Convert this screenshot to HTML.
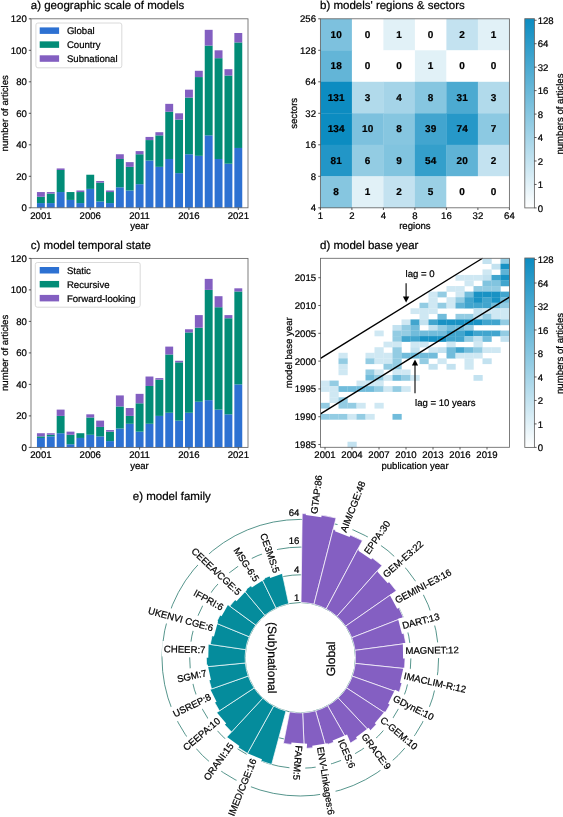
<!DOCTYPE html><html><head><meta charset="utf-8"><style>html,body{margin:0;padding:0;background:#fff;}svg{display:block;will-change:transform;} text{stroke:#000;stroke-width:0.22px;text-rendering:geometricPrecision;}</style></head><body><svg width="563" height="817" viewBox="0 0 563 817" font-family='"Liberation Sans", sans-serif'>
<rect width="563" height="817" fill="#fff"/>
<rect x="36.95" y="203.08" width="7.90" height="4.72" fill="#2d71d2"/>
<rect x="36.95" y="196.78" width="7.90" height="6.30" fill="#028c77"/>
<rect x="36.95" y="192.05" width="7.90" height="4.72" fill="#835fc1"/>
<rect x="46.82" y="203.08" width="7.90" height="4.72" fill="#2d71d2"/>
<rect x="46.82" y="193.62" width="7.90" height="9.45" fill="#028c77"/>
<rect x="46.82" y="192.05" width="7.90" height="1.57" fill="#835fc1"/>
<rect x="56.69" y="192.05" width="7.90" height="15.75" fill="#2d71d2"/>
<rect x="56.69" y="170.00" width="7.90" height="22.05" fill="#028c77"/>
<rect x="56.69" y="168.43" width="7.90" height="1.57" fill="#835fc1"/>
<rect x="66.56" y="199.93" width="7.90" height="7.88" fill="#2d71d2"/>
<rect x="66.56" y="192.05" width="7.90" height="7.88" fill="#028c77"/>
<rect x="76.43" y="203.08" width="7.90" height="4.72" fill="#2d71d2"/>
<rect x="76.43" y="192.05" width="7.90" height="11.03" fill="#028c77"/>
<rect x="76.43" y="190.48" width="7.90" height="1.57" fill="#835fc1"/>
<rect x="86.30" y="188.90" width="7.90" height="18.90" fill="#2d71d2"/>
<rect x="86.30" y="174.73" width="7.90" height="14.17" fill="#028c77"/>
<rect x="96.17" y="201.50" width="7.90" height="6.30" fill="#2d71d2"/>
<rect x="96.17" y="182.60" width="7.90" height="18.90" fill="#028c77"/>
<rect x="96.17" y="181.03" width="7.90" height="1.58" fill="#835fc1"/>
<rect x="106.04" y="203.08" width="7.90" height="4.72" fill="#2d71d2"/>
<rect x="106.04" y="192.05" width="7.90" height="11.03" fill="#028c77"/>
<rect x="106.04" y="190.48" width="7.90" height="1.57" fill="#835fc1"/>
<rect x="115.91" y="187.33" width="7.90" height="20.47" fill="#2d71d2"/>
<rect x="115.91" y="158.98" width="7.90" height="28.35" fill="#028c77"/>
<rect x="115.91" y="154.25" width="7.90" height="4.73" fill="#835fc1"/>
<rect x="125.78" y="190.48" width="7.90" height="17.32" fill="#2d71d2"/>
<rect x="125.78" y="166.85" width="7.90" height="23.62" fill="#028c77"/>
<rect x="125.78" y="162.12" width="7.90" height="4.73" fill="#835fc1"/>
<rect x="135.65" y="184.18" width="7.90" height="23.62" fill="#2d71d2"/>
<rect x="135.65" y="154.25" width="7.90" height="29.93" fill="#028c77"/>
<rect x="135.65" y="151.10" width="7.90" height="3.15" fill="#835fc1"/>
<rect x="145.52" y="160.55" width="7.90" height="47.25" fill="#2d71d2"/>
<rect x="145.52" y="140.08" width="7.90" height="20.47" fill="#028c77"/>
<rect x="145.52" y="136.93" width="7.90" height="3.15" fill="#835fc1"/>
<rect x="155.39" y="166.85" width="7.90" height="40.95" fill="#2d71d2"/>
<rect x="155.39" y="135.35" width="7.90" height="31.50" fill="#028c77"/>
<rect x="155.39" y="132.20" width="7.90" height="3.15" fill="#835fc1"/>
<rect x="165.26" y="158.98" width="7.90" height="48.82" fill="#2d71d2"/>
<rect x="165.26" y="111.73" width="7.90" height="47.25" fill="#028c77"/>
<rect x="165.26" y="103.85" width="7.90" height="7.88" fill="#835fc1"/>
<rect x="175.13" y="173.15" width="7.90" height="34.65" fill="#2d71d2"/>
<rect x="175.13" y="119.60" width="7.90" height="53.55" fill="#028c77"/>
<rect x="175.13" y="113.30" width="7.90" height="6.30" fill="#835fc1"/>
<rect x="185.00" y="154.25" width="7.90" height="53.55" fill="#2d71d2"/>
<rect x="185.00" y="97.55" width="7.90" height="56.70" fill="#028c77"/>
<rect x="185.00" y="89.68" width="7.90" height="7.88" fill="#835fc1"/>
<rect x="194.87" y="155.83" width="7.90" height="51.97" fill="#2d71d2"/>
<rect x="194.87" y="77.08" width="7.90" height="78.75" fill="#028c77"/>
<rect x="194.87" y="70.78" width="7.90" height="6.30" fill="#835fc1"/>
<rect x="204.74" y="135.35" width="7.90" height="72.45" fill="#2d71d2"/>
<rect x="204.74" y="45.58" width="7.90" height="89.78" fill="#028c77"/>
<rect x="204.74" y="29.83" width="7.90" height="15.75" fill="#835fc1"/>
<rect x="214.61" y="158.98" width="7.90" height="48.82" fill="#2d71d2"/>
<rect x="214.61" y="58.18" width="7.90" height="100.80" fill="#028c77"/>
<rect x="214.61" y="50.30" width="7.90" height="7.88" fill="#835fc1"/>
<rect x="224.48" y="163.70" width="7.90" height="44.10" fill="#2d71d2"/>
<rect x="224.48" y="75.50" width="7.90" height="88.20" fill="#028c77"/>
<rect x="224.48" y="69.20" width="7.90" height="6.30" fill="#835fc1"/>
<rect x="234.35" y="147.95" width="7.90" height="59.85" fill="#2d71d2"/>
<rect x="234.35" y="42.43" width="7.90" height="105.53" fill="#028c77"/>
<rect x="234.35" y="32.98" width="7.90" height="9.45" fill="#835fc1"/>
<rect x="31.0" y="18.8" width="217.0" height="189.0" fill="none" stroke="#666" stroke-width="0.85"/>
<line x1="28.8" y1="207.80" x2="31.0" y2="207.80" stroke="#333" stroke-width="0.8"/>
<text x="26.80" y="211.20" font-size="9.6" text-anchor="end" >0</text>
<line x1="28.8" y1="176.30" x2="31.0" y2="176.30" stroke="#333" stroke-width="0.8"/>
<text x="26.80" y="179.70" font-size="9.6" text-anchor="end" >20</text>
<line x1="28.8" y1="144.80" x2="31.0" y2="144.80" stroke="#333" stroke-width="0.8"/>
<text x="26.80" y="148.20" font-size="9.6" text-anchor="end" >40</text>
<line x1="28.8" y1="113.30" x2="31.0" y2="113.30" stroke="#333" stroke-width="0.8"/>
<text x="26.80" y="116.70" font-size="9.6" text-anchor="end" >60</text>
<line x1="28.8" y1="81.80" x2="31.0" y2="81.80" stroke="#333" stroke-width="0.8"/>
<text x="26.80" y="85.20" font-size="9.6" text-anchor="end" >80</text>
<line x1="28.8" y1="50.30" x2="31.0" y2="50.30" stroke="#333" stroke-width="0.8"/>
<text x="26.80" y="53.70" font-size="9.6" text-anchor="end" >100</text>
<line x1="28.8" y1="18.80" x2="31.0" y2="18.80" stroke="#333" stroke-width="0.8"/>
<text x="26.80" y="22.20" font-size="9.6" text-anchor="end" >120</text>
<line x1="40.90" y1="207.8" x2="40.90" y2="210.0" stroke="#333" stroke-width="0.8"/>
<text x="40.90" y="218.80" font-size="9.6" text-anchor="middle" >2001</text>
<line x1="90.25" y1="207.8" x2="90.25" y2="210.0" stroke="#333" stroke-width="0.8"/>
<text x="90.25" y="218.80" font-size="9.6" text-anchor="middle" >2006</text>
<line x1="139.60" y1="207.8" x2="139.60" y2="210.0" stroke="#333" stroke-width="0.8"/>
<text x="139.60" y="218.80" font-size="9.6" text-anchor="middle" >2011</text>
<line x1="188.95" y1="207.8" x2="188.95" y2="210.0" stroke="#333" stroke-width="0.8"/>
<text x="188.95" y="218.80" font-size="9.6" text-anchor="middle" >2016</text>
<line x1="238.30" y1="207.8" x2="238.30" y2="210.0" stroke="#333" stroke-width="0.8"/>
<text x="238.30" y="218.80" font-size="9.6" text-anchor="middle" >2021</text>
<text x="139.50" y="229.10" font-size="9.6" text-anchor="middle" >year</text>
<text x="0" y="0" font-size="9.6" text-anchor="middle" transform="translate(8.2,113.30) rotate(-90)">number of articles</text>
<text x="30.80" y="9.00" font-size="11.5" text-anchor="start" >a) geographic scale of models</text>
<rect x="35.9" y="23.0" width="85.9" height="44.8" rx="2" fill="#fff" fill-opacity="0.8" stroke="#d0d0d0" stroke-width="0.8"/>
<rect x="39.7" y="27.40" width="19.4" height="6.5" fill="#2d71d2"/>
<text x="66.90" y="34.30" font-size="9.6" text-anchor="start" >Global</text>
<rect x="39.7" y="41.35" width="19.4" height="6.5" fill="#028c77"/>
<text x="66.90" y="48.25" font-size="9.6" text-anchor="start" >Country</text>
<rect x="39.7" y="55.30" width="19.4" height="6.5" fill="#835fc1"/>
<text x="66.90" y="62.20" font-size="9.6" text-anchor="start" >Subnational</text>
<rect x="36.95" y="437.95" width="7.90" height="9.45" fill="#2d71d2"/>
<rect x="36.95" y="436.38" width="7.90" height="1.57" fill="#028c77"/>
<rect x="36.95" y="433.22" width="7.90" height="3.15" fill="#835fc1"/>
<rect x="46.82" y="436.38" width="7.90" height="11.02" fill="#2d71d2"/>
<rect x="46.82" y="434.80" width="7.90" height="1.58" fill="#028c77"/>
<rect x="46.82" y="433.22" width="7.90" height="1.57" fill="#835fc1"/>
<rect x="56.69" y="433.22" width="7.90" height="14.18" fill="#2d71d2"/>
<rect x="56.69" y="415.90" width="7.90" height="17.32" fill="#028c77"/>
<rect x="56.69" y="409.60" width="7.90" height="6.30" fill="#835fc1"/>
<rect x="66.56" y="444.25" width="7.90" height="3.15" fill="#2d71d2"/>
<rect x="66.56" y="434.80" width="7.90" height="9.45" fill="#028c77"/>
<rect x="66.56" y="431.65" width="7.90" height="3.15" fill="#835fc1"/>
<rect x="76.43" y="437.95" width="7.90" height="9.45" fill="#2d71d2"/>
<rect x="76.43" y="433.22" width="7.90" height="4.73" fill="#028c77"/>
<rect x="86.30" y="434.80" width="7.90" height="12.60" fill="#2d71d2"/>
<rect x="86.30" y="417.47" width="7.90" height="17.32" fill="#028c77"/>
<rect x="86.30" y="414.32" width="7.90" height="3.15" fill="#835fc1"/>
<rect x="96.17" y="436.38" width="7.90" height="11.02" fill="#2d71d2"/>
<rect x="96.17" y="426.92" width="7.90" height="9.45" fill="#028c77"/>
<rect x="96.17" y="420.62" width="7.90" height="6.30" fill="#835fc1"/>
<rect x="106.04" y="441.10" width="7.90" height="6.30" fill="#2d71d2"/>
<rect x="106.04" y="431.65" width="7.90" height="9.45" fill="#028c77"/>
<rect x="106.04" y="430.07" width="7.90" height="1.57" fill="#835fc1"/>
<rect x="115.91" y="428.50" width="7.90" height="18.90" fill="#2d71d2"/>
<rect x="115.91" y="406.45" width="7.90" height="22.05" fill="#028c77"/>
<rect x="115.91" y="395.42" width="7.90" height="11.03" fill="#835fc1"/>
<rect x="125.78" y="423.77" width="7.90" height="23.62" fill="#2d71d2"/>
<rect x="125.78" y="415.90" width="7.90" height="7.88" fill="#028c77"/>
<rect x="125.78" y="408.02" width="7.90" height="7.88" fill="#835fc1"/>
<rect x="135.65" y="431.65" width="7.90" height="15.75" fill="#2d71d2"/>
<rect x="135.65" y="403.30" width="7.90" height="28.35" fill="#028c77"/>
<rect x="135.65" y="393.85" width="7.90" height="9.45" fill="#835fc1"/>
<rect x="145.52" y="423.77" width="7.90" height="23.62" fill="#2d71d2"/>
<rect x="145.52" y="385.97" width="7.90" height="37.80" fill="#028c77"/>
<rect x="145.52" y="376.52" width="7.90" height="9.45" fill="#835fc1"/>
<rect x="155.39" y="415.90" width="7.90" height="31.50" fill="#2d71d2"/>
<rect x="155.39" y="379.67" width="7.90" height="36.23" fill="#028c77"/>
<rect x="155.39" y="378.10" width="7.90" height="1.57" fill="#835fc1"/>
<rect x="165.26" y="412.75" width="7.90" height="34.65" fill="#2d71d2"/>
<rect x="165.26" y="354.47" width="7.90" height="58.28" fill="#028c77"/>
<rect x="165.26" y="346.60" width="7.90" height="7.88" fill="#835fc1"/>
<rect x="175.13" y="420.62" width="7.90" height="26.77" fill="#2d71d2"/>
<rect x="175.13" y="362.35" width="7.90" height="58.28" fill="#028c77"/>
<rect x="175.13" y="360.77" width="7.90" height="1.57" fill="#835fc1"/>
<rect x="185.00" y="412.75" width="7.90" height="34.65" fill="#2d71d2"/>
<rect x="185.00" y="332.42" width="7.90" height="80.33" fill="#028c77"/>
<rect x="185.00" y="329.27" width="7.90" height="3.15" fill="#835fc1"/>
<rect x="194.87" y="401.72" width="7.90" height="45.68" fill="#2d71d2"/>
<rect x="194.87" y="327.70" width="7.90" height="74.02" fill="#028c77"/>
<rect x="194.87" y="315.10" width="7.90" height="12.60" fill="#835fc1"/>
<rect x="204.74" y="400.15" width="7.90" height="47.25" fill="#2d71d2"/>
<rect x="204.74" y="289.90" width="7.90" height="110.25" fill="#028c77"/>
<rect x="204.74" y="278.88" width="7.90" height="11.02" fill="#835fc1"/>
<rect x="214.61" y="409.60" width="7.90" height="37.80" fill="#2d71d2"/>
<rect x="214.61" y="307.23" width="7.90" height="102.37" fill="#028c77"/>
<rect x="214.61" y="296.20" width="7.90" height="11.03" fill="#835fc1"/>
<rect x="224.48" y="414.32" width="7.90" height="33.07" fill="#2d71d2"/>
<rect x="224.48" y="318.25" width="7.90" height="96.07" fill="#028c77"/>
<rect x="224.48" y="315.10" width="7.90" height="3.15" fill="#835fc1"/>
<rect x="234.35" y="384.40" width="7.90" height="63.00" fill="#2d71d2"/>
<rect x="234.35" y="291.48" width="7.90" height="92.92" fill="#028c77"/>
<rect x="234.35" y="288.32" width="7.90" height="3.15" fill="#835fc1"/>
<rect x="31.0" y="258.4" width="217.0" height="189.0" fill="none" stroke="#666" stroke-width="0.85"/>
<line x1="28.8" y1="447.40" x2="31.0" y2="447.40" stroke="#333" stroke-width="0.8"/>
<text x="26.80" y="450.80" font-size="9.6" text-anchor="end" >0</text>
<line x1="28.8" y1="415.90" x2="31.0" y2="415.90" stroke="#333" stroke-width="0.8"/>
<text x="26.80" y="419.30" font-size="9.6" text-anchor="end" >20</text>
<line x1="28.8" y1="384.40" x2="31.0" y2="384.40" stroke="#333" stroke-width="0.8"/>
<text x="26.80" y="387.80" font-size="9.6" text-anchor="end" >40</text>
<line x1="28.8" y1="352.90" x2="31.0" y2="352.90" stroke="#333" stroke-width="0.8"/>
<text x="26.80" y="356.30" font-size="9.6" text-anchor="end" >60</text>
<line x1="28.8" y1="321.40" x2="31.0" y2="321.40" stroke="#333" stroke-width="0.8"/>
<text x="26.80" y="324.80" font-size="9.6" text-anchor="end" >80</text>
<line x1="28.8" y1="289.90" x2="31.0" y2="289.90" stroke="#333" stroke-width="0.8"/>
<text x="26.80" y="293.30" font-size="9.6" text-anchor="end" >100</text>
<line x1="28.8" y1="258.40" x2="31.0" y2="258.40" stroke="#333" stroke-width="0.8"/>
<text x="26.80" y="261.80" font-size="9.6" text-anchor="end" >120</text>
<line x1="40.90" y1="447.4" x2="40.90" y2="449.59999999999997" stroke="#333" stroke-width="0.8"/>
<text x="40.90" y="458.40" font-size="9.6" text-anchor="middle" >2001</text>
<line x1="90.25" y1="447.4" x2="90.25" y2="449.59999999999997" stroke="#333" stroke-width="0.8"/>
<text x="90.25" y="458.40" font-size="9.6" text-anchor="middle" >2006</text>
<line x1="139.60" y1="447.4" x2="139.60" y2="449.59999999999997" stroke="#333" stroke-width="0.8"/>
<text x="139.60" y="458.40" font-size="9.6" text-anchor="middle" >2011</text>
<line x1="188.95" y1="447.4" x2="188.95" y2="449.59999999999997" stroke="#333" stroke-width="0.8"/>
<text x="188.95" y="458.40" font-size="9.6" text-anchor="middle" >2016</text>
<line x1="238.30" y1="447.4" x2="238.30" y2="449.59999999999997" stroke="#333" stroke-width="0.8"/>
<text x="238.30" y="458.40" font-size="9.6" text-anchor="middle" >2021</text>
<text x="139.50" y="468.70" font-size="9.6" text-anchor="middle" >year</text>
<text x="0" y="0" font-size="9.6" text-anchor="middle" transform="translate(8.2,352.90) rotate(-90)">number of articles</text>
<text x="30.80" y="248.70" font-size="11.5" text-anchor="start" >c) model temporal state</text>
<rect x="35.3" y="262.5" width="104.9" height="44.7" rx="2" fill="#fff" fill-opacity="0.8" stroke="#d0d0d0" stroke-width="0.8"/>
<rect x="39.7" y="267.00" width="19.4" height="6.5" fill="#2d71d2"/>
<text x="66.90" y="273.90" font-size="9.6" text-anchor="start" >Static</text>
<rect x="39.7" y="280.95" width="19.4" height="6.5" fill="#028c77"/>
<text x="66.90" y="287.85" font-size="9.6" text-anchor="start" >Recursive</text>
<rect x="39.7" y="294.90" width="19.4" height="6.5" fill="#835fc1"/>
<text x="66.90" y="301.80" font-size="9.6" text-anchor="start" >Forward-looking</text>
<rect x="320.40" y="18.80" width="31.80" height="31.80" fill="#7dc1de"/>
<text x="336.15" y="37.95" font-size="10" font-weight="bold" text-anchor="middle">10</text>
<rect x="351.90" y="18.80" width="31.80" height="31.80" fill="#ffffff"/>
<text x="367.65" y="37.95" font-size="10" font-weight="bold" text-anchor="middle">0</text>
<rect x="383.40" y="18.80" width="31.80" height="31.80" fill="#e1f1f7"/>
<text x="399.15" y="37.95" font-size="10" font-weight="bold" text-anchor="middle">1</text>
<rect x="414.90" y="18.80" width="31.80" height="31.80" fill="#ffffff"/>
<text x="430.65" y="37.95" font-size="10" font-weight="bold" text-anchor="middle">0</text>
<rect x="446.40" y="18.80" width="31.80" height="31.80" fill="#c3e2f0"/>
<text x="462.15" y="37.95" font-size="10" font-weight="bold" text-anchor="middle">2</text>
<rect x="477.90" y="18.80" width="31.80" height="31.80" fill="#e1f1f7"/>
<text x="493.65" y="37.95" font-size="10" font-weight="bold" text-anchor="middle">1</text>
<rect x="320.40" y="50.30" width="31.80" height="31.80" fill="#63b5d7"/>
<text x="336.15" y="69.45" font-size="10" font-weight="bold" text-anchor="middle">18</text>
<rect x="351.90" y="50.30" width="31.80" height="31.80" fill="#ffffff"/>
<text x="367.65" y="69.45" font-size="10" font-weight="bold" text-anchor="middle">0</text>
<rect x="383.40" y="50.30" width="31.80" height="31.80" fill="#ffffff"/>
<text x="399.15" y="69.45" font-size="10" font-weight="bold" text-anchor="middle">0</text>
<rect x="414.90" y="50.30" width="31.80" height="31.80" fill="#e1f1f7"/>
<text x="430.65" y="69.45" font-size="10" font-weight="bold" text-anchor="middle">1</text>
<rect x="446.40" y="50.30" width="31.80" height="31.80" fill="#ffffff"/>
<text x="462.15" y="69.45" font-size="10" font-weight="bold" text-anchor="middle">0</text>
<rect x="477.90" y="50.30" width="31.80" height="31.80" fill="#ffffff"/>
<text x="493.65" y="69.45" font-size="10" font-weight="bold" text-anchor="middle">0</text>
<rect x="320.40" y="81.80" width="31.80" height="31.80" fill="#0d8cc1"/>
<text x="336.15" y="100.95" font-size="10" font-weight="bold" text-anchor="middle">131</text>
<rect x="351.90" y="81.80" width="31.80" height="31.80" fill="#b1daeb"/>
<text x="367.65" y="100.95" font-size="10" font-weight="bold" text-anchor="middle">3</text>
<rect x="383.40" y="81.80" width="31.80" height="31.80" fill="#a5d4e8"/>
<text x="399.15" y="100.95" font-size="10" font-weight="bold" text-anchor="middle">4</text>
<rect x="414.90" y="81.80" width="31.80" height="31.80" fill="#86c6e0"/>
<text x="430.65" y="100.95" font-size="10" font-weight="bold" text-anchor="middle">8</text>
<rect x="446.40" y="81.80" width="31.80" height="31.80" fill="#4caad1"/>
<text x="462.15" y="100.95" font-size="10" font-weight="bold" text-anchor="middle">31</text>
<rect x="477.90" y="81.80" width="31.80" height="31.80" fill="#b1daeb"/>
<text x="493.65" y="100.95" font-size="10" font-weight="bold" text-anchor="middle">3</text>
<rect x="320.40" y="113.30" width="31.80" height="31.80" fill="#0c8cc1"/>
<text x="336.15" y="132.45" font-size="10" font-weight="bold" text-anchor="middle">134</text>
<rect x="351.90" y="113.30" width="31.80" height="31.80" fill="#7dc1de"/>
<text x="367.65" y="132.45" font-size="10" font-weight="bold" text-anchor="middle">10</text>
<rect x="383.40" y="113.30" width="31.80" height="31.80" fill="#86c6e0"/>
<text x="399.15" y="132.45" font-size="10" font-weight="bold" text-anchor="middle">8</text>
<rect x="414.90" y="113.30" width="31.80" height="31.80" fill="#42a5cf"/>
<text x="430.65" y="132.45" font-size="10" font-weight="bold" text-anchor="middle">39</text>
<rect x="446.40" y="113.30" width="31.80" height="31.80" fill="#2698c8"/>
<text x="462.15" y="132.45" font-size="10" font-weight="bold" text-anchor="middle">74</text>
<rect x="477.90" y="113.30" width="31.80" height="31.80" fill="#8cc9e2"/>
<text x="493.65" y="132.45" font-size="10" font-weight="bold" text-anchor="middle">7</text>
<rect x="320.40" y="144.80" width="31.80" height="31.80" fill="#2296c7"/>
<text x="336.15" y="163.95" font-size="10" font-weight="bold" text-anchor="middle">81</text>
<rect x="351.90" y="144.80" width="31.80" height="31.80" fill="#93cce3"/>
<text x="367.65" y="163.95" font-size="10" font-weight="bold" text-anchor="middle">6</text>
<rect x="383.40" y="144.80" width="31.80" height="31.80" fill="#81c4df"/>
<text x="399.15" y="163.95" font-size="10" font-weight="bold" text-anchor="middle">9</text>
<rect x="414.90" y="144.80" width="31.80" height="31.80" fill="#349fcb"/>
<text x="430.65" y="163.95" font-size="10" font-weight="bold" text-anchor="middle">54</text>
<rect x="446.40" y="144.80" width="31.80" height="31.80" fill="#5fb3d6"/>
<text x="462.15" y="163.95" font-size="10" font-weight="bold" text-anchor="middle">20</text>
<rect x="477.90" y="144.80" width="31.80" height="31.80" fill="#c3e2f0"/>
<text x="493.65" y="163.95" font-size="10" font-weight="bold" text-anchor="middle">2</text>
<rect x="320.40" y="176.30" width="31.80" height="31.80" fill="#86c6e0"/>
<text x="336.15" y="195.45" font-size="10" font-weight="bold" text-anchor="middle">8</text>
<rect x="351.90" y="176.30" width="31.80" height="31.80" fill="#e1f1f7"/>
<text x="367.65" y="195.45" font-size="10" font-weight="bold" text-anchor="middle">1</text>
<rect x="383.40" y="176.30" width="31.80" height="31.80" fill="#c3e2f0"/>
<text x="399.15" y="195.45" font-size="10" font-weight="bold" text-anchor="middle">2</text>
<rect x="414.90" y="176.30" width="31.80" height="31.80" fill="#9bd0e5"/>
<text x="430.65" y="195.45" font-size="10" font-weight="bold" text-anchor="middle">5</text>
<rect x="446.40" y="176.30" width="31.80" height="31.80" fill="#ffffff"/>
<text x="462.15" y="195.45" font-size="10" font-weight="bold" text-anchor="middle">0</text>
<rect x="477.90" y="176.30" width="31.80" height="31.80" fill="#ffffff"/>
<text x="493.65" y="195.45" font-size="10" font-weight="bold" text-anchor="middle">0</text>
<rect x="320.4" y="18.8" width="189.0" height="189.0" fill="none" stroke="#666" stroke-width="0.85"/>
<line x1="320.40" y1="207.8" x2="320.40" y2="210.0" stroke="#333" stroke-width="0.8"/>
<text x="320.40" y="218.80" font-size="9.6" text-anchor="middle" >1</text>
<line x1="351.90" y1="207.8" x2="351.90" y2="210.0" stroke="#333" stroke-width="0.8"/>
<text x="351.90" y="218.80" font-size="9.6" text-anchor="middle" >2</text>
<line x1="383.40" y1="207.8" x2="383.40" y2="210.0" stroke="#333" stroke-width="0.8"/>
<text x="383.40" y="218.80" font-size="9.6" text-anchor="middle" >4</text>
<line x1="414.90" y1="207.8" x2="414.90" y2="210.0" stroke="#333" stroke-width="0.8"/>
<text x="414.90" y="218.80" font-size="9.6" text-anchor="middle" >8</text>
<line x1="446.40" y1="207.8" x2="446.40" y2="210.0" stroke="#333" stroke-width="0.8"/>
<text x="446.40" y="218.80" font-size="9.6" text-anchor="middle" >16</text>
<line x1="477.90" y1="207.8" x2="477.90" y2="210.0" stroke="#333" stroke-width="0.8"/>
<text x="477.90" y="218.80" font-size="9.6" text-anchor="middle" >32</text>
<line x1="509.40" y1="207.8" x2="509.40" y2="210.0" stroke="#333" stroke-width="0.8"/>
<text x="509.40" y="218.80" font-size="9.6" text-anchor="middle" >64</text>
<line x1="318.2" y1="18.80" x2="320.4" y2="18.80" stroke="#333" stroke-width="0.8"/>
<text x="316.00" y="22.20" font-size="9.6" text-anchor="end" >256</text>
<line x1="318.2" y1="50.30" x2="320.4" y2="50.30" stroke="#333" stroke-width="0.8"/>
<text x="316.00" y="53.70" font-size="9.6" text-anchor="end" >128</text>
<line x1="318.2" y1="81.80" x2="320.4" y2="81.80" stroke="#333" stroke-width="0.8"/>
<text x="316.00" y="85.20" font-size="9.6" text-anchor="end" >64</text>
<line x1="318.2" y1="113.30" x2="320.4" y2="113.30" stroke="#333" stroke-width="0.8"/>
<text x="316.00" y="116.70" font-size="9.6" text-anchor="end" >32</text>
<line x1="318.2" y1="144.80" x2="320.4" y2="144.80" stroke="#333" stroke-width="0.8"/>
<text x="316.00" y="148.20" font-size="9.6" text-anchor="end" >16</text>
<line x1="318.2" y1="176.30" x2="320.4" y2="176.30" stroke="#333" stroke-width="0.8"/>
<text x="316.00" y="179.70" font-size="9.6" text-anchor="end" >8</text>
<line x1="318.2" y1="207.80" x2="320.4" y2="207.80" stroke="#333" stroke-width="0.8"/>
<text x="316.00" y="211.20" font-size="9.6" text-anchor="end" >4</text>
<text x="414.90" y="229.40" font-size="9.6" text-anchor="middle" >regions</text>
<text x="0" y="0" font-size="9.6" text-anchor="middle" transform="translate(296.5,113.30) rotate(-90)">sectors</text>
<text x="320.00" y="9.00" font-size="11.5" text-anchor="start" >b) models' regions &amp; sectors</text>
<defs><linearGradient id="cbg1" x1="0" y1="1" x2="0" y2="0"><stop offset="0" stop-color="#ffffff"/><stop offset="1" stop-color="#0c8cc1"/></linearGradient></defs>
<rect x="524.8" y="18.7" width="9.60" height="189.20" fill="url(#cbg1)"/>
<rect x="524.8" y="18.7" width="9.60" height="189.20" fill="none" stroke="#666" stroke-width="0.85"/>
<line x1="534.4" y1="20.25" x2="536.6" y2="20.25" stroke="#333" stroke-width="0.8"/>
<text x="537.70" y="23.85" font-size="9.6" text-anchor="start" >128</text>
<line x1="534.4" y1="43.71" x2="536.6" y2="43.71" stroke="#333" stroke-width="0.8"/>
<text x="537.70" y="47.31" font-size="9.6" text-anchor="start" >64</text>
<line x1="534.4" y1="67.16" x2="536.6" y2="67.16" stroke="#333" stroke-width="0.8"/>
<text x="537.70" y="70.76" font-size="9.6" text-anchor="start" >32</text>
<line x1="534.4" y1="90.62" x2="536.6" y2="90.62" stroke="#333" stroke-width="0.8"/>
<text x="537.70" y="94.22" font-size="9.6" text-anchor="start" >16</text>
<line x1="534.4" y1="114.08" x2="536.6" y2="114.08" stroke="#333" stroke-width="0.8"/>
<text x="537.70" y="117.68" font-size="9.6" text-anchor="start" >8</text>
<line x1="534.4" y1="137.53" x2="536.6" y2="137.53" stroke="#333" stroke-width="0.8"/>
<text x="537.70" y="141.13" font-size="9.6" text-anchor="start" >4</text>
<line x1="534.4" y1="160.99" x2="536.6" y2="160.99" stroke="#333" stroke-width="0.8"/>
<text x="537.70" y="164.59" font-size="9.6" text-anchor="start" >2</text>
<line x1="534.4" y1="184.44" x2="536.6" y2="184.44" stroke="#333" stroke-width="0.8"/>
<text x="537.70" y="188.04" font-size="9.6" text-anchor="start" >1</text>
<line x1="534.4" y1="207.90" x2="536.6" y2="207.90" stroke="#333" stroke-width="0.8"/>
<text x="537.70" y="211.50" font-size="9.6" text-anchor="start" >0</text>
<text x="0" y="0" font-size="9.6" text-anchor="middle" transform="translate(562.5,114.10) rotate(-90)">numbers of articles</text>
<rect x="482.50" y="258.26" width="9.20" height="5.76" fill="#c3e2f0"/>
<rect x="500.50" y="258.26" width="9.20" height="5.76" fill="#93cce3"/>
<rect x="491.50" y="263.82" width="9.20" height="5.76" fill="#c3e2f0"/>
<rect x="500.50" y="263.82" width="9.20" height="5.76" fill="#1992c4"/>
<rect x="482.50" y="269.38" width="9.20" height="5.76" fill="#cfe8f3"/>
<rect x="500.50" y="269.38" width="9.20" height="5.76" fill="#5fb3d6"/>
<rect x="455.50" y="274.94" width="9.20" height="5.76" fill="#cfe8f3"/>
<rect x="464.50" y="274.94" width="9.20" height="5.76" fill="#cfe8f3"/>
<rect x="473.50" y="274.94" width="9.20" height="5.76" fill="#cfe8f3"/>
<rect x="482.50" y="274.94" width="9.20" height="5.76" fill="#c3e2f0"/>
<rect x="491.50" y="274.94" width="9.20" height="5.76" fill="#41a5ce"/>
<rect x="500.50" y="274.94" width="9.20" height="5.76" fill="#1992c4"/>
<rect x="464.50" y="280.50" width="9.20" height="5.76" fill="#cfe8f3"/>
<rect x="482.50" y="280.50" width="9.20" height="5.76" fill="#81c4df"/>
<rect x="491.50" y="280.50" width="9.20" height="5.76" fill="#81c4df"/>
<rect x="500.50" y="280.50" width="9.20" height="5.76" fill="#41a5ce"/>
<rect x="446.50" y="286.06" width="9.20" height="5.76" fill="#cfe8f3"/>
<rect x="455.50" y="286.06" width="9.20" height="5.76" fill="#cfe8f3"/>
<rect x="473.50" y="286.06" width="9.20" height="5.76" fill="#93cce3"/>
<rect x="482.50" y="286.06" width="9.20" height="5.76" fill="#93cce3"/>
<rect x="491.50" y="286.06" width="9.20" height="5.76" fill="#93cce3"/>
<rect x="428.50" y="291.62" width="9.20" height="5.76" fill="#cfe8f3"/>
<rect x="437.50" y="291.62" width="9.20" height="5.76" fill="#93cce3"/>
<rect x="455.50" y="291.62" width="9.20" height="5.76" fill="#cfe8f3"/>
<rect x="464.50" y="291.62" width="9.20" height="5.76" fill="#71bcdb"/>
<rect x="473.50" y="291.62" width="9.20" height="5.76" fill="#1992c4"/>
<rect x="482.50" y="291.62" width="9.20" height="5.76" fill="#1992c4"/>
<rect x="491.50" y="291.62" width="9.20" height="5.76" fill="#1992c4"/>
<rect x="500.50" y="291.62" width="9.20" height="5.76" fill="#41a5ce"/>
<rect x="428.50" y="297.18" width="9.20" height="5.76" fill="#cfe8f3"/>
<rect x="446.50" y="297.18" width="9.20" height="5.76" fill="#cfe8f3"/>
<rect x="455.50" y="297.18" width="9.20" height="5.76" fill="#93cce3"/>
<rect x="464.50" y="297.18" width="9.20" height="5.76" fill="#41a5ce"/>
<rect x="473.50" y="297.18" width="9.20" height="5.76" fill="#1992c4"/>
<rect x="482.50" y="297.18" width="9.20" height="5.76" fill="#41a5ce"/>
<rect x="491.50" y="297.18" width="9.20" height="5.76" fill="#1992c4"/>
<rect x="500.50" y="297.18" width="9.20" height="5.76" fill="#71bcdb"/>
<rect x="419.50" y="302.74" width="9.20" height="5.76" fill="#93cce3"/>
<rect x="428.50" y="302.74" width="9.20" height="5.76" fill="#cfe8f3"/>
<rect x="437.50" y="302.74" width="9.20" height="5.76" fill="#93cce3"/>
<rect x="446.50" y="302.74" width="9.20" height="5.76" fill="#cfe8f3"/>
<rect x="455.50" y="302.74" width="9.20" height="5.76" fill="#5fb3d6"/>
<rect x="464.50" y="302.74" width="9.20" height="5.76" fill="#41a5ce"/>
<rect x="473.50" y="302.74" width="9.20" height="5.76" fill="#41a5ce"/>
<rect x="482.50" y="302.74" width="9.20" height="5.76" fill="#41a5ce"/>
<rect x="491.50" y="302.74" width="9.20" height="5.76" fill="#71bcdb"/>
<rect x="500.50" y="302.74" width="9.20" height="5.76" fill="#93cce3"/>
<rect x="410.50" y="308.30" width="9.20" height="5.76" fill="#cfe8f3"/>
<rect x="419.50" y="308.30" width="9.20" height="5.76" fill="#cfe8f3"/>
<rect x="428.50" y="308.30" width="9.20" height="5.76" fill="#cfe8f3"/>
<rect x="473.50" y="308.30" width="9.20" height="5.76" fill="#c3e2f0"/>
<rect x="482.50" y="308.30" width="9.20" height="5.76" fill="#cfe8f3"/>
<rect x="491.50" y="308.30" width="9.20" height="5.76" fill="#cfe8f3"/>
<rect x="500.50" y="308.30" width="9.20" height="5.76" fill="#cfe8f3"/>
<rect x="419.50" y="313.86" width="9.20" height="5.76" fill="#cfe8f3"/>
<rect x="437.50" y="313.86" width="9.20" height="5.76" fill="#71bcdb"/>
<rect x="455.50" y="313.86" width="9.20" height="5.76" fill="#93cce3"/>
<rect x="464.50" y="313.86" width="9.20" height="5.76" fill="#93cce3"/>
<rect x="473.50" y="313.86" width="9.20" height="5.76" fill="#c3e2f0"/>
<rect x="482.50" y="313.86" width="9.20" height="5.76" fill="#93cce3"/>
<rect x="491.50" y="313.86" width="9.20" height="5.76" fill="#cfe8f3"/>
<rect x="500.50" y="313.86" width="9.20" height="5.76" fill="#cfe8f3"/>
<rect x="401.50" y="319.42" width="9.20" height="5.76" fill="#cfe8f3"/>
<rect x="410.50" y="319.42" width="9.20" height="5.76" fill="#41a5ce"/>
<rect x="419.50" y="319.42" width="9.20" height="5.76" fill="#c3e2f0"/>
<rect x="428.50" y="319.42" width="9.20" height="5.76" fill="#41a5ce"/>
<rect x="437.50" y="319.42" width="9.20" height="5.76" fill="#1992c4"/>
<rect x="446.50" y="319.42" width="9.20" height="5.76" fill="#1992c4"/>
<rect x="455.50" y="319.42" width="9.20" height="5.76" fill="#1992c4"/>
<rect x="464.50" y="319.42" width="9.20" height="5.76" fill="#1992c4"/>
<rect x="473.50" y="319.42" width="9.20" height="5.76" fill="#1992c4"/>
<rect x="482.50" y="319.42" width="9.20" height="5.76" fill="#41a5ce"/>
<rect x="491.50" y="319.42" width="9.20" height="5.76" fill="#41a5ce"/>
<rect x="500.50" y="319.42" width="9.20" height="5.76" fill="#93cce3"/>
<rect x="392.50" y="324.98" width="9.20" height="5.76" fill="#c3e2f0"/>
<rect x="401.50" y="324.98" width="9.20" height="5.76" fill="#93cce3"/>
<rect x="410.50" y="324.98" width="9.20" height="5.76" fill="#71bcdb"/>
<rect x="428.50" y="324.98" width="9.20" height="5.76" fill="#c3e2f0"/>
<rect x="437.50" y="324.98" width="9.20" height="5.76" fill="#93cce3"/>
<rect x="446.50" y="324.98" width="9.20" height="5.76" fill="#71bcdb"/>
<rect x="455.50" y="324.98" width="9.20" height="5.76" fill="#71bcdb"/>
<rect x="464.50" y="324.98" width="9.20" height="5.76" fill="#93cce3"/>
<rect x="374.50" y="330.54" width="9.20" height="5.76" fill="#cfe8f3"/>
<rect x="392.50" y="330.54" width="9.20" height="5.76" fill="#93cce3"/>
<rect x="401.50" y="330.54" width="9.20" height="5.76" fill="#93cce3"/>
<rect x="410.50" y="330.54" width="9.20" height="5.76" fill="#71bcdb"/>
<rect x="419.50" y="330.54" width="9.20" height="5.76" fill="#71bcdb"/>
<rect x="428.50" y="330.54" width="9.20" height="5.76" fill="#71bcdb"/>
<rect x="437.50" y="330.54" width="9.20" height="5.76" fill="#71bcdb"/>
<rect x="446.50" y="330.54" width="9.20" height="5.76" fill="#41a5ce"/>
<rect x="455.50" y="330.54" width="9.20" height="5.76" fill="#41a5ce"/>
<rect x="464.50" y="330.54" width="9.20" height="5.76" fill="#1992c4"/>
<rect x="473.50" y="330.54" width="9.20" height="5.76" fill="#41a5ce"/>
<rect x="482.50" y="330.54" width="9.20" height="5.76" fill="#41a5ce"/>
<rect x="491.50" y="330.54" width="9.20" height="5.76" fill="#41a5ce"/>
<rect x="500.50" y="330.54" width="9.20" height="5.76" fill="#93cce3"/>
<rect x="392.50" y="336.10" width="9.20" height="5.76" fill="#93cce3"/>
<rect x="401.50" y="336.10" width="9.20" height="5.76" fill="#41a5ce"/>
<rect x="410.50" y="336.10" width="9.20" height="5.76" fill="#41a5ce"/>
<rect x="419.50" y="336.10" width="9.20" height="5.76" fill="#1992c4"/>
<rect x="428.50" y="336.10" width="9.20" height="5.76" fill="#1992c4"/>
<rect x="437.50" y="336.10" width="9.20" height="5.76" fill="#1992c4"/>
<rect x="446.50" y="336.10" width="9.20" height="5.76" fill="#41a5ce"/>
<rect x="455.50" y="336.10" width="9.20" height="5.76" fill="#41a5ce"/>
<rect x="464.50" y="336.10" width="9.20" height="5.76" fill="#93cce3"/>
<rect x="473.50" y="336.10" width="9.20" height="5.76" fill="#c3e2f0"/>
<rect x="482.50" y="336.10" width="9.20" height="5.76" fill="#71bcdb"/>
<rect x="500.50" y="336.10" width="9.20" height="5.76" fill="#c3e2f0"/>
<rect x="383.50" y="341.66" width="9.20" height="5.76" fill="#cfe8f3"/>
<rect x="392.50" y="341.66" width="9.20" height="5.76" fill="#cfe8f3"/>
<rect x="410.50" y="341.66" width="9.20" height="5.76" fill="#cfe8f3"/>
<rect x="419.50" y="341.66" width="9.20" height="5.76" fill="#cfe8f3"/>
<rect x="446.50" y="341.66" width="9.20" height="5.76" fill="#cfe8f3"/>
<rect x="473.50" y="341.66" width="9.20" height="5.76" fill="#cfe8f3"/>
<rect x="374.50" y="347.22" width="9.20" height="5.76" fill="#cfe8f3"/>
<rect x="392.50" y="347.22" width="9.20" height="5.76" fill="#93cce3"/>
<rect x="410.50" y="347.22" width="9.20" height="5.76" fill="#c3e2f0"/>
<rect x="428.50" y="347.22" width="9.20" height="5.76" fill="#cfe8f3"/>
<rect x="437.50" y="347.22" width="9.20" height="5.76" fill="#c3e2f0"/>
<rect x="446.50" y="347.22" width="9.20" height="5.76" fill="#71bcdb"/>
<rect x="455.50" y="347.22" width="9.20" height="5.76" fill="#41a5ce"/>
<rect x="464.50" y="347.22" width="9.20" height="5.76" fill="#71bcdb"/>
<rect x="473.50" y="347.22" width="9.20" height="5.76" fill="#93cce3"/>
<rect x="482.50" y="347.22" width="9.20" height="5.76" fill="#cfe8f3"/>
<rect x="491.50" y="347.22" width="9.20" height="5.76" fill="#cfe8f3"/>
<rect x="338.50" y="352.78" width="9.20" height="5.76" fill="#cfe8f3"/>
<rect x="365.50" y="352.78" width="9.20" height="5.76" fill="#cfe8f3"/>
<rect x="374.50" y="352.78" width="9.20" height="5.76" fill="#cfe8f3"/>
<rect x="383.50" y="352.78" width="9.20" height="5.76" fill="#cfe8f3"/>
<rect x="392.50" y="352.78" width="9.20" height="5.76" fill="#93cce3"/>
<rect x="401.50" y="352.78" width="9.20" height="5.76" fill="#71bcdb"/>
<rect x="410.50" y="352.78" width="9.20" height="5.76" fill="#71bcdb"/>
<rect x="419.50" y="352.78" width="9.20" height="5.76" fill="#71bcdb"/>
<rect x="428.50" y="352.78" width="9.20" height="5.76" fill="#71bcdb"/>
<rect x="446.50" y="352.78" width="9.20" height="5.76" fill="#71bcdb"/>
<rect x="455.50" y="352.78" width="9.20" height="5.76" fill="#cfe8f3"/>
<rect x="464.50" y="352.78" width="9.20" height="5.76" fill="#cfe8f3"/>
<rect x="473.50" y="352.78" width="9.20" height="5.76" fill="#cfe8f3"/>
<rect x="338.50" y="358.34" width="9.20" height="5.76" fill="#93cce3"/>
<rect x="365.50" y="358.34" width="9.20" height="5.76" fill="#93cce3"/>
<rect x="374.50" y="358.34" width="9.20" height="5.76" fill="#cfe8f3"/>
<rect x="383.50" y="358.34" width="9.20" height="5.76" fill="#cfe8f3"/>
<rect x="392.50" y="358.34" width="9.20" height="5.76" fill="#93cce3"/>
<rect x="419.50" y="358.34" width="9.20" height="5.76" fill="#93cce3"/>
<rect x="437.50" y="358.34" width="9.20" height="5.76" fill="#cfe8f3"/>
<rect x="464.50" y="358.34" width="9.20" height="5.76" fill="#cfe8f3"/>
<rect x="482.50" y="358.34" width="9.20" height="5.76" fill="#c3e2f0"/>
<rect x="338.50" y="363.90" width="9.20" height="5.76" fill="#cfe8f3"/>
<rect x="383.50" y="363.90" width="9.20" height="5.76" fill="#93cce3"/>
<rect x="392.50" y="363.90" width="9.20" height="5.76" fill="#93cce3"/>
<rect x="428.50" y="363.90" width="9.20" height="5.76" fill="#c3e2f0"/>
<rect x="446.50" y="363.90" width="9.20" height="5.76" fill="#c3e2f0"/>
<rect x="464.50" y="363.90" width="9.20" height="5.76" fill="#cfe8f3"/>
<rect x="338.50" y="369.46" width="9.20" height="5.76" fill="#cfe8f3"/>
<rect x="365.50" y="369.46" width="9.20" height="5.76" fill="#93cce3"/>
<rect x="374.50" y="369.46" width="9.20" height="5.76" fill="#cfe8f3"/>
<rect x="392.50" y="369.46" width="9.20" height="5.76" fill="#cfe8f3"/>
<rect x="401.50" y="369.46" width="9.20" height="5.76" fill="#cfe8f3"/>
<rect x="365.50" y="375.02" width="9.20" height="5.76" fill="#71bcdb"/>
<rect x="374.50" y="375.02" width="9.20" height="5.76" fill="#93cce3"/>
<rect x="383.50" y="375.02" width="9.20" height="5.76" fill="#cfe8f3"/>
<rect x="392.50" y="375.02" width="9.20" height="5.76" fill="#71bcdb"/>
<rect x="401.50" y="375.02" width="9.20" height="5.76" fill="#93cce3"/>
<rect x="410.50" y="375.02" width="9.20" height="5.76" fill="#cfe8f3"/>
<rect x="473.50" y="375.02" width="9.20" height="5.76" fill="#c3e2f0"/>
<rect x="320.50" y="380.58" width="9.20" height="5.76" fill="#cfe8f3"/>
<rect x="329.50" y="380.58" width="9.20" height="5.76" fill="#93cce3"/>
<rect x="356.50" y="380.58" width="9.20" height="5.76" fill="#cfe8f3"/>
<rect x="365.50" y="380.58" width="9.20" height="5.76" fill="#cfe8f3"/>
<rect x="374.50" y="380.58" width="9.20" height="5.76" fill="#cfe8f3"/>
<rect x="320.50" y="386.14" width="9.20" height="5.76" fill="#cfe8f3"/>
<rect x="329.50" y="386.14" width="9.20" height="5.76" fill="#cfe8f3"/>
<rect x="338.50" y="386.14" width="9.20" height="5.76" fill="#71bcdb"/>
<rect x="347.50" y="386.14" width="9.20" height="5.76" fill="#71bcdb"/>
<rect x="356.50" y="386.14" width="9.20" height="5.76" fill="#71bcdb"/>
<rect x="365.50" y="386.14" width="9.20" height="5.76" fill="#71bcdb"/>
<rect x="374.50" y="386.14" width="9.20" height="5.76" fill="#93cce3"/>
<rect x="383.50" y="386.14" width="9.20" height="5.76" fill="#cfe8f3"/>
<rect x="392.50" y="386.14" width="9.20" height="5.76" fill="#93cce3"/>
<rect x="401.50" y="386.14" width="9.20" height="5.76" fill="#cfe8f3"/>
<rect x="329.50" y="391.70" width="9.20" height="5.76" fill="#cfe8f3"/>
<rect x="329.50" y="397.26" width="9.20" height="5.76" fill="#cfe8f3"/>
<rect x="338.50" y="397.26" width="9.20" height="5.76" fill="#93cce3"/>
<rect x="320.50" y="402.82" width="9.20" height="5.76" fill="#93cce3"/>
<rect x="338.50" y="402.82" width="9.20" height="5.76" fill="#93cce3"/>
<rect x="347.50" y="402.82" width="9.20" height="5.76" fill="#93cce3"/>
<rect x="356.50" y="402.82" width="9.20" height="5.76" fill="#cfe8f3"/>
<rect x="374.50" y="402.82" width="9.20" height="5.76" fill="#cfe8f3"/>
<rect x="320.50" y="413.94" width="9.20" height="5.76" fill="#93cce3"/>
<rect x="329.50" y="413.94" width="9.20" height="5.76" fill="#93cce3"/>
<rect x="338.50" y="413.94" width="9.20" height="5.76" fill="#93cce3"/>
<rect x="347.50" y="413.94" width="9.20" height="5.76" fill="#cfe8f3"/>
<rect x="356.50" y="413.94" width="9.20" height="5.76" fill="#93cce3"/>
<rect x="365.50" y="413.94" width="9.20" height="5.76" fill="#cfe8f3"/>
<rect x="392.50" y="413.94" width="9.20" height="5.76" fill="#71bcdb"/>
<rect x="347.50" y="441.74" width="9.20" height="5.76" fill="#c3e2f0"/>
<line x1="320.50" y1="358.34" x2="482.50" y2="258.26" stroke="#000" stroke-width="1.4"/>
<line x1="320.50" y1="413.94" x2="509.50" y2="297.18" stroke="#000" stroke-width="1.4"/>
<line x1="406.1" y1="283.2" x2="406.1" y2="297.5" stroke="#000" stroke-width="1.1"/>
<path d="M402.90000000000003,296.5 L409.3,296.5 L406.1,302.5 Z" fill="#000"/>
<line x1="415.0" y1="393.3" x2="415.0" y2="364.6" stroke="#000" stroke-width="1.1"/>
<path d="M411.9,365.6 L418.1,365.6 L415.0,359.6 Z" fill="#000"/>
<text x="405.50" y="277.30" font-size="9.6" text-anchor="start" >lag = 0</text>
<text x="415.00" y="405.50" font-size="9.6" text-anchor="start" >lag = 10 years</text>
<rect x="320.5" y="258.3" width="189" height="189" fill="none" stroke="#666" stroke-width="0.85"/>
<line x1="325.00" y1="447.3" x2="325.00" y2="449.5" stroke="#333" stroke-width="0.8"/>
<text x="325.00" y="458.30" font-size="9.6" text-anchor="middle" >2001</text>
<line x1="352.00" y1="447.3" x2="352.00" y2="449.5" stroke="#333" stroke-width="0.8"/>
<text x="352.00" y="458.30" font-size="9.6" text-anchor="middle" >2004</text>
<line x1="379.00" y1="447.3" x2="379.00" y2="449.5" stroke="#333" stroke-width="0.8"/>
<text x="379.00" y="458.30" font-size="9.6" text-anchor="middle" >2007</text>
<line x1="406.00" y1="447.3" x2="406.00" y2="449.5" stroke="#333" stroke-width="0.8"/>
<text x="406.00" y="458.30" font-size="9.6" text-anchor="middle" >2010</text>
<line x1="433.00" y1="447.3" x2="433.00" y2="449.5" stroke="#333" stroke-width="0.8"/>
<text x="433.00" y="458.30" font-size="9.6" text-anchor="middle" >2013</text>
<line x1="460.00" y1="447.3" x2="460.00" y2="449.5" stroke="#333" stroke-width="0.8"/>
<text x="460.00" y="458.30" font-size="9.6" text-anchor="middle" >2016</text>
<line x1="487.00" y1="447.3" x2="487.00" y2="449.5" stroke="#333" stroke-width="0.8"/>
<text x="487.00" y="458.30" font-size="9.6" text-anchor="middle" >2019</text>
<line x1="318.3" y1="444.52" x2="320.5" y2="444.52" stroke="#333" stroke-width="0.8"/>
<text x="316.10" y="447.92" font-size="9.6" text-anchor="end" >1985</text>
<line x1="318.3" y1="416.72" x2="320.5" y2="416.72" stroke="#333" stroke-width="0.8"/>
<text x="316.10" y="420.12" font-size="9.6" text-anchor="end" >1990</text>
<line x1="318.3" y1="388.92" x2="320.5" y2="388.92" stroke="#333" stroke-width="0.8"/>
<text x="316.10" y="392.32" font-size="9.6" text-anchor="end" >1995</text>
<line x1="318.3" y1="361.12" x2="320.5" y2="361.12" stroke="#333" stroke-width="0.8"/>
<text x="316.10" y="364.52" font-size="9.6" text-anchor="end" >2000</text>
<line x1="318.3" y1="333.32" x2="320.5" y2="333.32" stroke="#333" stroke-width="0.8"/>
<text x="316.10" y="336.72" font-size="9.6" text-anchor="end" >2005</text>
<line x1="318.3" y1="305.52" x2="320.5" y2="305.52" stroke="#333" stroke-width="0.8"/>
<text x="316.10" y="308.92" font-size="9.6" text-anchor="end" >2010</text>
<line x1="318.3" y1="277.72" x2="320.5" y2="277.72" stroke="#333" stroke-width="0.8"/>
<text x="316.10" y="281.12" font-size="9.6" text-anchor="end" >2015</text>
<text x="415.00" y="468.70" font-size="9.6" text-anchor="middle" >publication year</text>
<text x="0" y="0" font-size="9.6" text-anchor="middle" transform="translate(291.8,352.80) rotate(-90)">model base year</text>
<text x="320.00" y="248.70" font-size="11.5" text-anchor="start" >d) model base year</text>
<defs><linearGradient id="cbg2" x1="0" y1="1" x2="0" y2="0"><stop offset="0" stop-color="#ffffff"/><stop offset="1" stop-color="#0c8cc1"/></linearGradient></defs>
<rect x="524.8" y="258.0" width="9.60" height="189.40" fill="url(#cbg2)"/>
<rect x="524.8" y="258.0" width="9.60" height="189.40" fill="none" stroke="#666" stroke-width="0.85"/>
<line x1="534.4" y1="259.55" x2="536.6" y2="259.55" stroke="#333" stroke-width="0.8"/>
<text x="537.70" y="263.15" font-size="9.6" text-anchor="start" >128</text>
<line x1="534.4" y1="283.03" x2="536.6" y2="283.03" stroke="#333" stroke-width="0.8"/>
<text x="537.70" y="286.63" font-size="9.6" text-anchor="start" >64</text>
<line x1="534.4" y1="306.51" x2="536.6" y2="306.51" stroke="#333" stroke-width="0.8"/>
<text x="537.70" y="310.11" font-size="9.6" text-anchor="start" >32</text>
<line x1="534.4" y1="329.99" x2="536.6" y2="329.99" stroke="#333" stroke-width="0.8"/>
<text x="537.70" y="333.59" font-size="9.6" text-anchor="start" >16</text>
<line x1="534.4" y1="353.48" x2="536.6" y2="353.48" stroke="#333" stroke-width="0.8"/>
<text x="537.70" y="357.08" font-size="9.6" text-anchor="start" >8</text>
<line x1="534.4" y1="376.96" x2="536.6" y2="376.96" stroke="#333" stroke-width="0.8"/>
<text x="537.70" y="380.56" font-size="9.6" text-anchor="start" >4</text>
<line x1="534.4" y1="400.44" x2="536.6" y2="400.44" stroke="#333" stroke-width="0.8"/>
<text x="537.70" y="404.04" font-size="9.6" text-anchor="start" >2</text>
<line x1="534.4" y1="423.92" x2="536.6" y2="423.92" stroke="#333" stroke-width="0.8"/>
<text x="537.70" y="427.52" font-size="9.6" text-anchor="start" >1</text>
<line x1="534.4" y1="447.40" x2="536.6" y2="447.40" stroke="#333" stroke-width="0.8"/>
<text x="537.70" y="451.00" font-size="9.6" text-anchor="start" >0</text>
<text x="0" y="0" font-size="9.6" text-anchor="middle" transform="translate(562.5,353.50) rotate(-90)">numbers of articles</text>
<circle cx="300.3" cy="657.7" r="55.20" fill="none" stroke="#2b7a6f" stroke-width="0.8"/>
<circle cx="300.3" cy="657.7" r="82.90" fill="none" stroke="#2b7a6f" stroke-width="0.8"/>
<circle cx="300.3" cy="657.7" r="110.60" fill="none" stroke="#2b7a6f" stroke-width="0.8"/>
<circle cx="300.3" cy="657.7" r="138.30" fill="none" stroke="#2b7a6f" stroke-width="0.8"/>
<path d="M301.02,602.50 L302.19,513.51 A144.20,144.20 0 0 1 336.04,518.00 L313.98,604.22 A55.20,55.20 0 0 0 301.02,602.50 Z" fill="#845fc2" stroke="#fff" stroke-width="0.7"/>
<path d="M313.98,604.22 L333.15,529.28 A132.55,132.55 0 0 1 362.43,540.61 L326.17,608.94 A55.20,55.20 0 0 0 313.98,604.22 Z" fill="#845fc2" stroke="#fff" stroke-width="0.7"/>
<path d="M326.17,608.94 L358.03,548.91 A123.16,123.16 0 0 1 381.99,565.53 L336.91,616.39 A55.20,55.20 0 0 0 326.17,608.94 Z" fill="#845fc2" stroke="#fff" stroke-width="0.7"/>
<path d="M336.91,616.39 L377.88,570.17 A116.96,116.96 0 0 1 396.29,590.86 L345.60,626.16 A55.20,55.20 0 0 0 336.91,616.39 Z" fill="#845fc2" stroke="#fff" stroke-width="0.7"/>
<path d="M345.60,626.16 L391.06,594.50 A110.60,110.60 0 0 1 403.38,617.61 L351.75,637.69 A55.20,55.20 0 0 0 345.60,626.16 Z" fill="#845fc2" stroke="#fff" stroke-width="0.7"/>
<path d="M351.75,637.69 L399.51,619.12 A106.45,106.45 0 0 1 405.80,643.53 L355.01,650.35 A55.20,55.20 0 0 0 351.75,637.69 Z" fill="#845fc2" stroke="#fff" stroke-width="0.7"/>
<path d="M355.01,650.35 L404.22,643.74 A104.85,104.85 0 0 1 404.59,668.57 L355.20,663.42 A55.20,55.20 0 0 0 355.01,650.35 Z" fill="#845fc2" stroke="#fff" stroke-width="0.7"/>
<path d="M355.20,663.42 L404.59,668.57 A104.85,104.85 0 0 1 399.11,692.79 L352.32,676.17 A55.20,55.20 0 0 0 355.20,663.42 Z" fill="#845fc2" stroke="#fff" stroke-width="0.7"/>
<path d="M352.32,676.17 L395.67,691.57 A101.21,101.21 0 0 1 385.04,713.04 L346.52,687.89 A55.20,55.20 0 0 0 352.32,676.17 Z" fill="#845fc2" stroke="#fff" stroke-width="0.7"/>
<path d="M346.52,687.89 L385.04,713.04 A101.21,101.21 0 0 1 369.65,731.42 L338.12,697.91 A55.20,55.20 0 0 0 346.52,687.89 Z" fill="#845fc2" stroke="#fff" stroke-width="0.7"/>
<path d="M338.12,697.91 L368.20,729.88 A99.10,99.10 0 0 1 349.33,743.83 L327.61,705.67 A55.20,55.20 0 0 0 338.12,697.91 Z" fill="#845fc2" stroke="#fff" stroke-width="0.7"/>
<path d="M327.61,705.67 L345.32,736.79 A91.00,91.00 0 0 1 325.46,745.15 L315.56,710.75 A55.20,55.20 0 0 0 327.61,705.67 Z" fill="#845fc2" stroke="#fff" stroke-width="0.7"/>
<path d="M315.56,710.75 L325.46,745.15 A91.00,91.00 0 0 1 304.19,748.62 L302.66,712.85 A55.20,55.20 0 0 0 315.56,710.75 Z" fill="#845fc2" stroke="#fff" stroke-width="0.7"/>
<path d="M302.66,712.85 L304.03,744.98 A87.36,87.36 0 0 1 283.41,743.41 L289.63,711.86 A55.20,55.20 0 0 0 302.66,712.85 Z" fill="#845fc2" stroke="#fff" stroke-width="0.7"/>
<path d="M286.01,711.02 L271.67,764.53 A110.60,110.60 0 0 1 246.85,754.53 L273.62,706.03 A55.20,55.20 0 0 0 286.01,711.02 Z" fill="#058c9c" stroke="#fff" stroke-width="0.7"/>
<path d="M273.62,706.03 L247.47,753.40 A109.31,109.31 0 0 1 226.03,737.90 L262.79,698.20 A55.20,55.20 0 0 0 273.62,706.03 Z" fill="#058c9c" stroke="#fff" stroke-width="0.7"/>
<path d="M262.79,698.20 L231.53,731.96 A101.21,101.21 0 0 1 215.71,713.27 L254.16,688.01 A55.20,55.20 0 0 0 262.79,698.20 Z" fill="#058c9c" stroke="#fff" stroke-width="0.7"/>
<path d="M254.16,688.01 L219.44,710.82 A96.75,96.75 0 0 1 209.04,689.84 L248.23,676.04 A55.20,55.20 0 0 0 254.16,688.01 Z" fill="#058c9c" stroke="#fff" stroke-width="0.7"/>
<path d="M248.23,676.04 L211.56,688.95 A94.08,94.08 0 0 1 206.65,666.72 L245.35,662.99 A55.20,55.20 0 0 0 248.23,676.04 Z" fill="#058c9c" stroke="#fff" stroke-width="0.7"/>
<path d="M245.35,662.99 L206.65,666.72 A94.08,94.08 0 0 1 207.23,643.96 L245.69,649.64 A55.20,55.20 0 0 0 245.35,662.99 Z" fill="#058c9c" stroke="#fff" stroke-width="0.7"/>
<path d="M245.69,649.64 L210.27,644.41 A91.00,91.00 0 0 1 216.10,623.17 L249.23,636.75 A55.20,55.20 0 0 0 245.69,649.64 Z" fill="#058c9c" stroke="#fff" stroke-width="0.7"/>
<path d="M249.23,636.75 L216.10,623.17 A91.00,91.00 0 0 1 226.87,603.95 L255.76,625.10 A55.20,55.20 0 0 0 249.23,636.75 Z" fill="#058c9c" stroke="#fff" stroke-width="0.7"/>
<path d="M255.76,625.10 L229.80,606.11 A87.36,87.36 0 0 1 244.26,590.68 L264.89,615.35 A55.20,55.20 0 0 0 255.76,625.10 Z" fill="#058c9c" stroke="#fff" stroke-width="0.7"/>
<path d="M264.89,615.35 L244.26,590.68 A87.36,87.36 0 0 1 262.00,579.18 L276.10,608.09 A55.20,55.20 0 0 0 264.89,615.35 Z" fill="#058c9c" stroke="#fff" stroke-width="0.7"/>
<path d="M276.10,608.09 L262.00,579.18 A87.36,87.36 0 0 1 281.99,572.28 L288.73,603.73 A55.20,55.20 0 0 0 276.10,608.09 Z" fill="#058c9c" stroke="#fff" stroke-width="0.7"/>
<g transform="translate(319.29,514.45) rotate(-82.45)"><rect x="-2.4" y="-13.3" width="43.57" height="15.7" fill="#fff"/><text x="0" y="-2.1" font-size="9.6">GTAP:86</text></g>
<g transform="translate(348.23,533.80) rotate(-68.85)"><rect x="-2.4" y="-13.3" width="58.68" height="15.7" fill="#fff"/><text x="0" y="-2.1" font-size="9.6">AIM/CGE:48</text></g>
<g transform="translate(370.67,556.26) rotate(-55.25)"><rect x="-2.4" y="-13.3" width="43.05" height="15.7" fill="#fff"/><text x="0" y="-2.1" font-size="9.6">EPPA:30</text></g>
<g transform="translate(387.92,579.77) rotate(-41.65)"><rect x="-2.4" y="-13.3" width="54.95" height="15.7" fill="#fff"/><text x="0" y="-2.1" font-size="9.6">GEM-E3:22</text></g>
<g transform="translate(398.17,605.55) rotate(-28.05)"><rect x="-2.4" y="-13.3" width="67.22" height="15.7" fill="#fff"/><text x="0" y="-2.1" font-size="9.6">GEMINI-E3:16</text></g>
<g transform="translate(403.67,631.06) rotate(-14.45)"><rect x="-2.4" y="-13.3" width="43.04" height="15.7" fill="#fff"/><text x="0" y="-2.1" font-size="9.6">DART:13</text></g>
<g transform="translate(405.44,656.14) rotate(-0.85)"><rect x="-2.4" y="-13.3" width="58.15" height="15.7" fill="#fff"/><text x="0" y="-2.1" font-size="9.6">MAGNET:12</text></g>
<g transform="translate(402.86,680.91) rotate(12.75)"><rect x="-2.4" y="-13.3" width="68.28" height="15.7" fill="#fff"/><text x="0" y="-2.1" font-size="9.6">IMACLIM-R:12</text></g>
<g transform="translate(391.26,702.75) rotate(26.35)"><rect x="-2.4" y="-13.3" width="49.09" height="15.7" fill="#fff"/><text x="0" y="-2.1" font-size="9.6">GDynE:10</text></g>
<g transform="translate(378.12,722.88) rotate(39.95)"><rect x="-2.4" y="-13.3" width="50.14" height="15.7" fill="#fff"/><text x="0" y="-2.1" font-size="9.6">C-GEM:10</text></g>
<g transform="translate(359.36,737.66) rotate(53.55)"><rect x="-2.4" y="-13.3" width="46.95" height="15.7" fill="#fff"/><text x="0" y="-2.1" font-size="9.6">GRACE:9</text></g>
<g transform="translate(335.75,741.84) rotate(67.15)"><rect x="-2.4" y="-13.3" width="35.21" height="15.7" fill="#fff"/><text x="0" y="-2.1" font-size="9.6">ICES:6</text></g>
<g transform="translate(314.98,747.81) rotate(80.75)"><rect x="-2.4" y="-13.3" width="73.64" height="15.7" fill="#fff"/><text x="0" y="-2.1" font-size="9.6">ENV-Linkages:6</text></g>
<g transform="translate(293.65,745.11) rotate(94.35)"><rect x="-2.4" y="-13.3" width="39.47" height="15.7" fill="#fff"/><text x="0" y="-2.1" font-size="9.6">FARM:5</text></g>
<g transform="translate(258.85,760.56) rotate(291.95)"><rect x="-63.21" y="-13.3" width="65.61" height="15.7" fill="#fff"/><text x="-0.6" y="-2.1" font-size="9.6" text-anchor="end">IMED/CGE:16</text></g>
<g transform="translate(236.10,746.55) rotate(305.85)"><rect x="-46.15" y="-13.3" width="48.55" height="15.7" fill="#fff"/><text x="-0.6" y="-2.1" font-size="9.6" text-anchor="end">ORANI:15</text></g>
<g transform="translate(222.83,723.29) rotate(319.75)"><rect x="-47.58" y="-13.3" width="49.98" height="15.7" fill="#fff"/><text x="-0.6" y="-2.1" font-size="9.6" text-anchor="end">CEEPA:10</text></g>
<g transform="translate(213.33,700.78) rotate(333.65)"><rect x="-43.48" y="-13.3" width="45.88" height="15.7" fill="#fff"/><text x="-0.6" y="-2.1" font-size="9.6" text-anchor="end">USREP:8</text></g>
<g transform="translate(208.14,678.05) rotate(347.55)"><rect x="-32.27" y="-13.3" width="34.67" height="15.7" fill="#fff"/><text x="-0.6" y="-2.1" font-size="9.6" text-anchor="end">SGM:7</text></g>
<g transform="translate(205.95,655.31) rotate(361.45)"><rect x="-44.01" y="-13.3" width="46.41" height="15.7" fill="#fff"/><text x="-0.6" y="-2.1" font-size="9.6" text-anchor="end">CHEER:7</text></g>
<g transform="translate(212.26,633.53) rotate(375.35)"><rect x="-69.62" y="-13.3" width="72.02" height="15.7" fill="#fff"/><text x="-0.6" y="-2.1" font-size="9.6" text-anchor="end">UKENVI CGE:6</text></g>
<g transform="translate(220.64,613.09) rotate(389.25)"><rect x="-34.94" y="-13.3" width="37.34" height="15.7" fill="#fff"/><text x="-0.6" y="-2.1" font-size="9.6" text-anchor="end">IFPRI:6</text></g>
<g transform="translate(236.35,597.75) rotate(403.15)"><rect x="-66.42" y="-13.3" width="68.82" height="15.7" fill="#fff"/><text x="-0.6" y="-2.1" font-size="9.6" text-anchor="end">CEEEA/CGE:5</text></g>
<g transform="translate(252.62,584.14) rotate(417.05)"><rect x="-40.81" y="-13.3" width="43.21" height="15.7" fill="#fff"/><text x="-0.6" y="-2.1" font-size="9.6" text-anchor="end">MSG-6:5</text></g>
<g transform="translate(271.69,574.84) rotate(430.95)"><rect x="-43.48" y="-13.3" width="45.88" height="15.7" fill="#fff"/><text x="-0.6" y="-2.1" font-size="9.6" text-anchor="end">CE3MS:5</text></g>
<text x="299.30" y="601.40" font-size="9.6" text-anchor="end" >1</text>
<text x="299.30" y="572.70" font-size="9.6" text-anchor="end" >4</text>
<text x="299.30" y="543.90" font-size="9.6" text-anchor="end" >16</text>
<text x="299.30" y="515.70" font-size="9.6" text-anchor="end" >64</text>
<text x="0" y="0" font-size="12" text-anchor="middle" transform="translate(272.6,657.7) rotate(90)" dy="4.2">(Sub)national</text>
<text x="0" y="0" font-size="12" text-anchor="middle" transform="translate(330.3,658.9) rotate(-90)" dy="4.2">Global</text>
<text x="132.80" y="499.90" font-size="11.5" text-anchor="start" >e) model family</text>
</svg></body></html>
